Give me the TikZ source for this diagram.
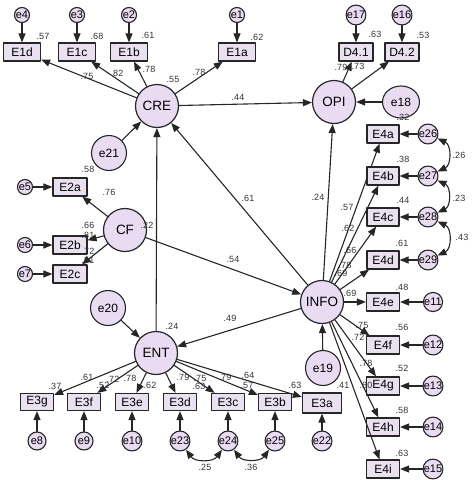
\documentclass[tikz,border=0pt]{standalone}
\usepackage{fontspec}
\setmainfont{Liberation Sans}
\usetikzlibrary{arrows.meta,shapes.geometric}
\definecolor{lav}{HTML}{E9DCF2}
\definecolor{boxlav}{HTML}{E9E1F0}
\definecolor{edge}{HTML}{262626}

\begin{document}
\begin{tikzpicture}[x=1pt,y=-1pt,>={Triangle[length=9pt,width=7pt]},
    line cap=round,line join=round,
    latent/.style={circle,draw=edge,line width=1.2pt,fill=lav,
      minimum size=43pt,inner sep=0pt,font=\fontsize{13.5}{14}\selectfont},
    errbig/.style={circle,draw=edge,line width=1.1pt,fill=lav,
      minimum size=35pt,inner sep=0pt,font=\fontsize{12}{13}\selectfont},
    errsm/.style={circle,draw=edge,line width=1.1pt,fill=lav,
      minimum size=15pt,inner sep=0pt,font=\fontsize{11}{12}\selectfont},
    errmid/.style={errsm,minimum size=18pt},
    obs/.style={rectangle,draw=edge,line width=1.2pt,fill=boxlav,
      minimum width=34pt,minimum height=18pt,inner sep=0pt,
      font=\fontsize{12}{13}\selectfont},
    reg/.style={->,line width=1.1pt,draw=edge},
    cov/.style={<->,line width=1.1pt,draw=edge},
    est/.style={inner sep=0pt,text=black!80,font=\fontsize{9}{10}\selectfont}]
  \useasboundingbox (0,0) rectangle (474,480);

  % Latent constructs and their disturbances.
  \node[latent] (CRE) at (157,106) {CRE};
  \node[latent] (OPI) at (334,102) {OPI};
  \node[latent] (CF) at (125,230) {CF};
  \node[latent] (INFO) at (322,302) {INFO};
  \node[latent] (ENT) at (156,353) {ENT};
  \node[errbig] (e21) at (109,153) {e21};
  \node[errbig] (e20) at (108,308) {e20};
  \node[errbig] (e19) at (323,368) {e19};
  \node[errbig,ellipse,minimum width=37pt,minimum height=32pt] (e18) at (401,102) {e18};

  % Structural paths.
  \draw[reg] (CRE) -- (OPI);
  \draw[reg] (INFO) -- (OPI);
  \draw[reg] (INFO) -- (CRE);
  \draw[reg] (ENT) -- (CRE);
  \draw[reg] (CF) -- (INFO);
  \draw[reg] (INFO) -- (ENT);
  \draw[reg] (e21) -- (CRE);
  \draw[reg] (e20) -- (ENT);
  \draw[reg] (e19) -- (INFO);
  \draw[reg] (e18) -- (OPI);

  % Indicators of CRE and OPI along the top.
  \foreach \n/\e/\x in {d/4/22,c/3/77,b/2/129,a/1/237} {
    \node[obs,minimum width=37pt] (E1\n) at (\x,52) {E1\n};
    \node[errsm] (e\e) at (\x,15) {e\e};
    \draw[reg] (e\e) -- (E1\n);
    \draw[reg] (CRE) -- (E1\n);
  }
  \foreach \n/\e/\x in {1/17/356,2/16/402} {
    \node[obs] (D4\n) at (\x,52) {D4.\n};
    \node[errsm,minimum size=16pt] (e\e) at (\x,15) {e\e};
    \draw[reg] (e\e) -- (D4\n);
    \draw[reg] (OPI) -- (D4\n);
  }

  % Indicators of CF on the left.
  \foreach \n/\e/\y in {a/5/187,b/6/245,c/7/274} {
    \node[obs] (E2\n) at (70,\y) {E2\n};
    \node[errsm] (e\e) at (25,\y) {e\e};
    \draw[reg] (e\e) -- (E2\n);
    \draw[reg] (CF) -- (E2\n);
  }

  % Indicators of ENT along the bottom.
  \foreach \n/\e/\x in {g/8/37,f/9/84,e/10/132,d/23/180,c/24/228,b/25/275} {
    \node[obs,minimum width=33pt,minimum height=17pt] (E3\n) at (\x,402) {E3\n};
    \node[errmid,minimum height=16pt] (e\e) at (\x,441) {e\e};
    \draw[reg] (e\e) -- (E3\n);
    \draw[reg] (ENT) -- (E3\n);
  }
  \node[obs,minimum width=39pt,minimum height=20pt] (E3a) at (322,403) {E3a};
  \node[errmid,minimum height=16pt] (e22) at (322,441) {e22};
  \draw[reg] (e22) -- (E3a);
  \draw[reg] (ENT) -- (E3a);
  \draw[cov] (e23) to[out=-55,in=-125,looseness=1.1] (e24);
  \draw[cov] (e24) to[out=-55,in=-125,looseness=1.1] (e25);

  % Indicators of INFO down the right side.
  \foreach \n/\e/\y in {a/26/134,b/27/176,c/28/217,d/29/260} {
    \node[obs,minimum width=32pt] (E4\n) at (383,\y) {E4\n};
    \node[errmid] (e\e) at (428,\y) {e\e};
    \draw[reg] (e\e) -- (E4\n);
    \draw[reg] (INFO) -- (E4\n);
  }
  \foreach \n/\e/\y in {e/11/302,f/12/345,g/13/386,h/14/427,i/15/469} {
    \node[obs,minimum width=33pt] (E4\n) at (383,\y) {E4\n};
    \node[errmid] (e\e) at (433,\y) {e\e};
    \draw[reg] (e\e) -- (E4\n);
    \draw[reg] (INFO) -- (E4\n);
  }
  \draw[cov] (e26) to[out=-25,in=25,looseness=1.2] (e27);
  \draw[cov] (e27) to[out=-25,in=25,looseness=1.2] (e28);
  \draw[cov] (e28) to[out=-25,in=25,looseness=1.2] (e29);

  % Estimates.
  \foreach \t/\x/\y [count=\i] in {
      .57/43/36,.68/97/36,.61/148/35,.62/257/37,.63/375/34,.53/423/35,
      .75/87/76,.82/117/73,.78/149/69,.55/173/79,.78/199/72,.44/238/97,
      .79/341/67,.73/358/66,
      .58/88/169,.76/109/192,.66/88/225,.81/88/235,.72/88/251,.51/88/260,
      .22/147/225,.54/233/259,.61/248/198,.24/318/197,.49/230/318,
      .24/172/326,
      .57/347/207,.62/348/228,.66/350/250,.78/345/265,.69/341/273,
      .69/350/293,.75/362/325,.72/358/337,.78/366/363,.80/366/385,
      .32/403/117,.38/403/159,.44/403/200,.61/402/243,.48/402/287,
      .56/402/327,.52/402/368,.58/402/410,.63/402/453,
      .37/55/386,.61/87/377,.72/113/379,.52/103/385,.78/130/378,
      .62/150/385,.79/183/377,.75/200/378,.63/199/386,.79/225/377,
      .57/247/385,.64/248/375,.63/295/385,.41/343/385,
      .26/459/155,.23/459/198,.43/462/237,.25/205/467,.36/251/467}
    \node[est] (v\i) at (\x,\y) {\t};
\end{tikzpicture}
\end{document}
